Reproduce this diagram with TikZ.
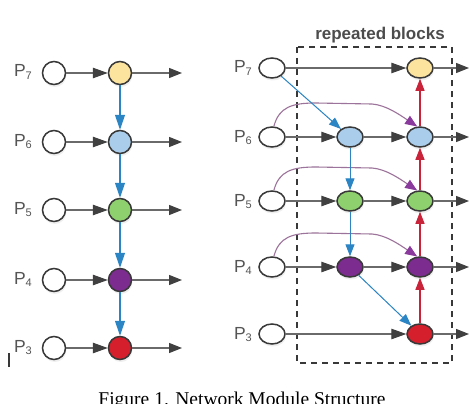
\documentclass[tikz,border=0pt]{standalone}
\usepackage{fontspec}
\setmainfont{Liberation Serif}
\setsansfont{Liberation Sans}
\usetikzlibrary{arrows.meta,shapes.geometric,shadows}

\definecolor{cyel}{HTML}{FCE39E}
\definecolor{cblu}{HTML}{AACDEB}
\definecolor{cgrn}{HTML}{8FD06E}
\definecolor{cpur}{HTML}{7B2C8E}
\definecolor{cred}{HTML}{D61F2D}
\definecolor{cedge}{HTML}{383838}
\definecolor{cgry}{HTML}{6A6A6A}
\definecolor{chead}{HTML}{404040}
\definecolor{cbar}{HTML}{2B84C4}
\definecolor{crar}{HTML}{C9233A}
\definecolor{cskp}{HTML}{9C739B}
\definecolor{cskh}{HTML}{8A3A9C}
\definecolor{clab}{HTML}{555555}

\newcommand{\plab}[1]{P\raisebox{-2pt}{\fontsize{11}{11}\selectfont #1}}

\tikzset{
	plabel/.style={font=\sffamily\fontsize{17.5}{17.5}\selectfont, text=clab, inner sep=0pt},
	ring/.style={circle, draw=cedge, line width=1.5pt, fill=white, minimum size=23pt, inner sep=0pt,
		drop shadow={opacity=0.12, shadow xshift=0.8pt, shadow yshift=-2.5pt}},
	oval/.style={ellipse, draw=cedge, line width=1.5pt, fill=white, minimum width=26pt, minimum height=20pt, inner sep=0pt,
		drop shadow={opacity=0.12, shadow xshift=0.8pt, shadow yshift=-2.5pt}},
	grayarr/.style={draw=cgry, line width=1.1pt, -{Triangle[length=15pt,width=10.5pt,color=chead]}},
	outarr/.style={draw=cgry, line width=1.1pt, -{Triangle[length=13pt,width=10pt,color=chead]}},
	bluearr/.style={draw=cbar, line width=1.2pt, -{Triangle[length=15pt,width=10pt]}},
	bluethin/.style={draw=cbar, line width=1pt, -{Triangle[length=12pt,width=9pt]}},
	redarr/.style={draw=crar, line width=1.1pt, -{Triangle[length=12pt,width=9pt]}},
	skiparr/.style={draw=cskp, line width=1.1pt, -{Triangle[length=12pt,width=9.5pt,color=cskh]}}
}

\begin{document}
\begin{tikzpicture}[x=1pt,y=-1pt]
	\useasboundingbox[fill=white] (0,0) rectangle (474,404);

	% single path
	\foreach \i/\y/\c in {7/73/cyel,6/142/cblu,5/210/cgrn,4/280/cpur,3/348/cred} {
		\node[plabel,anchor=base east] (lp\i) at (32,\y+4) {\plab{\i}};
		\node[ring] (la\i) at (54,\y) {};
		\node[ring,fill=\c] (lb\i) at (120,\y) {};
		\coordinate (lo\i) at (182,\y);
		\draw[grayarr] (la\i) -- (lb\i);
		\draw[outarr] (lb\i) -- (lo\i);
	}
	\foreach \i/\j in {7/6,6/5,5/4,4/3}
		\draw[bluearr] (lb\i) -- (lb\j);
	\draw[cedge,line width=1.3pt] (9,353) -- (9,367);

	% repeated blocks
	\draw[cedge,line width=1.5pt,dash pattern=on 6pt off 5pt] (297,47) rectangle (452,363);
	\node[font=\sffamily\bfseries\fontsize{17}{17}\selectfont, text=clab!90!black, anchor=base, inner sep=0pt] (rep) at (380,39.5) {repeated blocks};

	\foreach \i/\y/\c in {7/68/cyel,6/137/cblu,5/201/cgrn,4/267/cpur,3/334/cred} {
		\node[plabel,anchor=base east] (rp\i) at (252,\y+5) {\plab{\i}};
		\node[oval] (ri\i) at (272,\y) {};
		\node[oval,fill=\c] (rc\i) at (420,\y) {};
		\coordinate (ro\i) at (469,\y);
		\draw[outarr] (rc\i) -- (ro\i);
	}
	\foreach \i/\y/\c in {6/137/cblu,5/201/cgrn,4/267/cpur} {
		\node[oval,fill=\c] (rm\i) at (350,\y) {};
		\draw[grayarr] (ri\i) -- (rm\i);
		\draw[grayarr] (rm\i) -- (rc\i);
		\draw[skiparr] (ri\i.80) .. controls (279,\y-30) and (292,\y-34) .. (316,\y-34)
			-- (372,\y-33) .. controls (386,\y-32) and (400,\y-22) .. (rc\i.105);
	}
	\draw[grayarr] (ri7) -- (rc7);
	\draw[grayarr] (ri3) -- (rc3);

	\draw[bluethin] (ri7) -- (rm6);
	\draw[bluethin] (rm6) -- (rm5);
	\draw[bluethin] (rm5) -- (rm4);
	\draw[bluethin] (rm4) -- (rc3);
	\foreach \i/\j in {3/4,4/5,5/6,6/7}
		\draw[redarr] (rc\i) -- (rc\j);

	\node[font=\fontsize{19.5}{19.5}\selectfont, anchor=base, inner sep=0pt] (cap) at (242,405.5) {Figure 1. Network Module Structure};
\end{tikzpicture}
\end{document}
